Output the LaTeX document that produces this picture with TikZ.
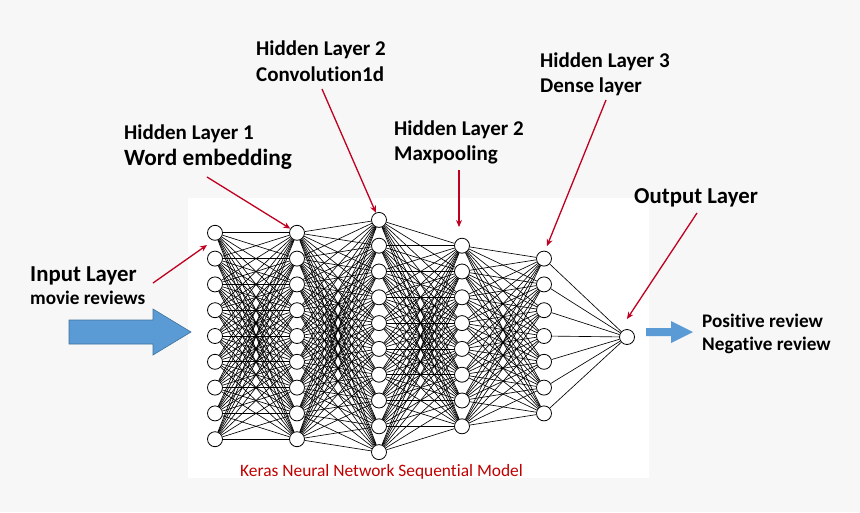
\documentclass[tikz,border=0pt]{standalone}
\usepackage{fontspec}
\setmainfont{Carlito}[Ligatures={NoCommon}]
\usetikzlibrary{arrows.meta}
\definecolor{bgc}{HTML}{F7F7F7}
\definecolor{arrred}{RGB}{192,0,32}
\definecolor{kerasred}{HTML}{C00000}
\definecolor{blockblue}{HTML}{5B9BD5}
\definecolor{blockedge}{HTML}{41719C}
\begin{document}
\begin{tikzpicture}[x=1pt,y=-1pt,
  neuron/.style={circle,draw=black,fill=white,line width=0.8pt,minimum size=15pt,inner sep=0pt},
  wire/.style={line width=0.65pt,black},
  callout/.style={draw=arrred,line width=1.3pt,-{Stealth[length=7pt,width=6pt]}},
  lbl/.style={anchor=base west,inner sep=0pt,font=\bfseries\fontsize{21}{24}\selectfont},
  lblbig/.style={anchor=base west,inner sep=0pt,font=\bfseries\fontsize{22.8}{26}\selectfont},
  lblsmall/.style={anchor=base west,inner sep=0pt,font=\bfseries\fontsize{19.2}{22}\selectfont},
  blockarrow/.style={fill=blockblue}
]
\fill[bgc] (0,0) rectangle (860,512);
\useasboundingbox (0,0) rectangle (860,512);
\fill[white] (188,198) rectangle (649,478);

% neurons
\foreach \i in {1,...,9} \node[neuron] (a\i) at (215,{336+(\i-5)*25.8}) {};
\foreach \i in {1,...,9} \node[neuron] (b\i) at (297,{336+(\i-5)*25.8}) {};
\foreach \i in {1,...,10} \node[neuron] (c\i) at (379,{336+(\i-5.5)*25.8}) {};
\foreach \i in {1,...,8} \node[neuron] (d\i) at (462,{336+(\i-4.5)*25.8}) {};
\foreach \i in {1,...,7} \node[neuron] (e\i) at (544,{336+(\i-4)*25.8}) {};
\node[neuron] (f1) at (627,337) {};

% wires
\foreach \i in {1,...,9} \foreach \j in {1,...,9} \draw[wire] (a\i) -- (b\j);
\foreach \i in {1,...,9} \foreach \j in {1,...,10} \draw[wire] (b\i) -- (c\j);
\foreach \i in {1,...,10} \foreach \j in {1,...,8} \draw[wire] (c\i) -- (d\j);
\foreach \i in {1,...,8} \foreach \j in {1,...,7} \draw[wire] (d\i) -- (e\j);
\foreach \i in {1,...,7} \draw[wire] (e\i) -- (f1);

% labels
\node[lbl] (h1a) at (124,139) {Hidden Layer 1};
\node[lblbig,font=\bfseries\fontsize{23.3}{26}\selectfont] (h1b) at (124,165.5) {Word embedding};
\node[lbl] (h2a) at (256,55) {Hidden Layer 2};
\node[lbl] (h2b) at (256,81) {Convolution1d};
\node[lbl] (h3a) at (394,135) {Hidden Layer 2};
\node[lbl] (h3b) at (394,160) {Maxpooling};
\node[lbl] (h4a) at (540,67) {Hidden Layer 3};
\node[lbl] (h4b) at (540,92) {Dense layer};
\node[lblbig] (out) at (634,203) {Output Layer};
\node[lblbig] (inp) at (30,281) {Input Layer};
\node[lblsmall] (inpb) at (30,304) {movie reviews};
\node[lblsmall] (pos) at (702,327) {Positive review};
\node[lblsmall] (neg) at (702,350) {Negative review};
\node[anchor=base west,inner sep=0pt,text=kerasred,font=\fontsize{17.4}{20}\selectfont] (keras) at (240,476) {Keras Neural Network Sequential Model};

% callout arrows
\coordinate (s1) at (207,177);
\coordinate (s2) at (322,89);
\coordinate (s3) at (459,170);
\coordinate (t3) at (459,227);
\coordinate (s4) at (606,100);
\coordinate (t4) at (547,246);
\coordinate (s5) at (697,213);
\coordinate (t5) at (627,319);
\coordinate (s6) at (153,283);
\coordinate (t6) at (207,245);
\draw[callout] (s1) -- (b1);
\draw[callout] (s2) -- (c1);
\draw[callout] (s3) -- (t3);
\draw[callout] (s4) -- (t4);
\draw[callout] (s5) -- (t5);
\draw[callout] (s6) -- (t6);

% block arrows
\filldraw[blockarrow,draw=blockedge,line width=0.6pt] (69,320) -- (153,320) -- (153,309) -- (191,332) -- (153,355) -- (153,344) -- (69,344) -- cycle;
\fill[blockarrow] (646,328) -- (671,328) -- (671,321) -- (693,332) -- (671,343) -- (671,336) -- (646,336) -- cycle;
\end{tikzpicture}
\end{document}
